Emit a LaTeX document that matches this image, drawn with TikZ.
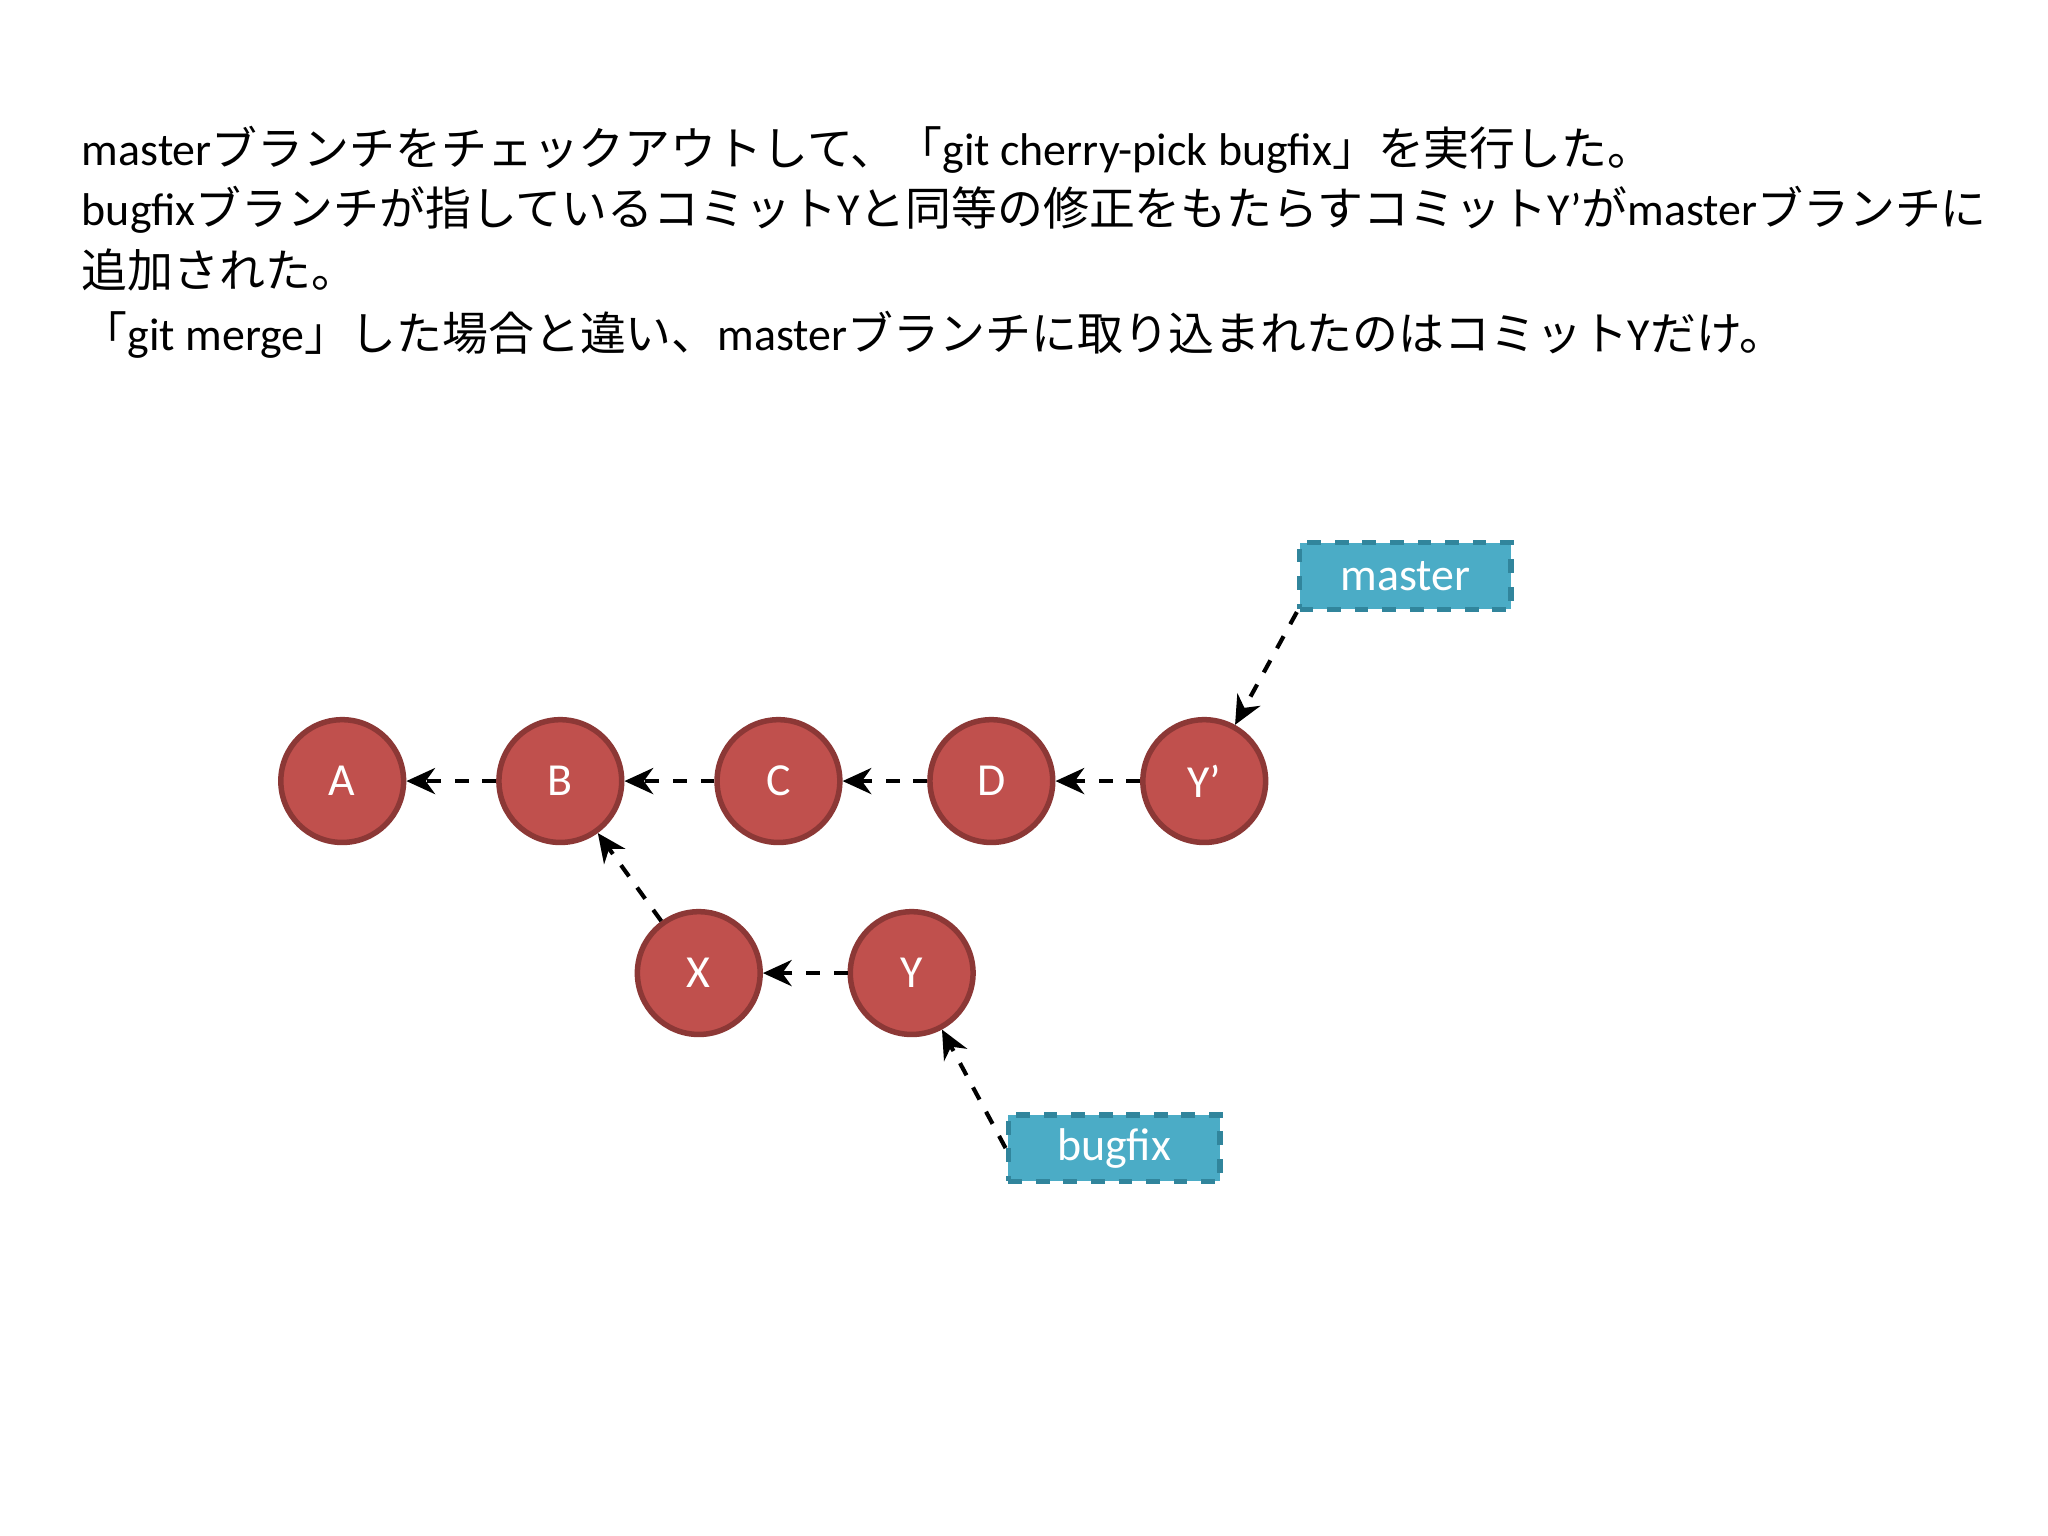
\documentclass[tikz,border=0pt]{standalone}
\usepackage{fontspec}
\setmainfont{Carlito}
\newfontfamily\cjk{Noto Sans CJK JP}
\newcommand{\jp}[1]{{\cjk #1}}
\usetikzlibrary{arrows.meta}
\definecolor{cfill}{HTML}{C0504D}
\definecolor{cdraw}{HTML}{8C3836}
\definecolor{bfill}{HTML}{4BACC6}
\definecolor{bdraw}{HTML}{31859C}
\tikzset{
 commit/.style={circle,fill=cfill,draw=cdraw,line width=1.2pt,minimum size=9.4mm,inner sep=0pt,text=white,font=\fontsize{10}{12}\selectfont},
 branch/.style={rectangle,fill=bfill,draw=bdraw,dashed,line width=1.2pt,minimum width=16.2mm,minimum height=5.1mm,inner sep=0pt,text=white,font=\fontsize{10}{12}\selectfont},
 link/.style={dashed,line width=0.9pt,-{Stealth[length=2.2mm,width=2mm]}},
 txt/.style={anchor=base west,inner sep=0pt,font=\fontsize{10}{12}\selectfont}
}
\begin{document}
\begin{tikzpicture}[x=0.1mm,y=-0.1mm]
\fill[white] (0,0) rectangle (1568,1176);
\node[txt] (l1) at (62,127) {master\jp{ブランチをチェックアウトして、「}git cherry-pick bugfix\jp{」を実行した。}};
\node[txt] (l2) at (62,173) {bugfix\jp{ブランチが指しているコミット}Y\jp{と同等の修正をもたらすコミット}Y’\jp{が}master\jp{ブランチに}};
\node[txt] (l3) at (62,220) {\jp{追加された。}};
\node[txt] (l4) at (62,268) {\jp{「}git merge\jp{」した場合と違い、}master\jp{ブランチに取り込まれたのはコミット}Y\jp{だけ。}};
\node[commit] (A) at (262,598) {A};
\node[commit] (B) at (429,598) {B};
\node[commit] (C) at (596,598) {C};
\node[commit] (D) at (759,598) {D};
\node[commit] (Yp) at (922,598) {Y’};
\node[commit] (X) at (535,745) {X};
\node[commit] (Y) at (698,745) {Y};
\node[branch] (m) at (1076,441) {master};
\node[branch] (bf) at (853,879) {bugfix};
\draw[link] (B) -- (A);
\draw[link] (C) -- (B);
\draw[link] (D) -- (C);
\draw[link] (Yp) -- (D);
\draw[link] (X) -- (B);
\draw[link] (Y) -- (X);
\draw[link] (m.south west) -- (Yp);
\draw[link] (bf.west) -- (Y);
\end{tikzpicture}
\end{document}
